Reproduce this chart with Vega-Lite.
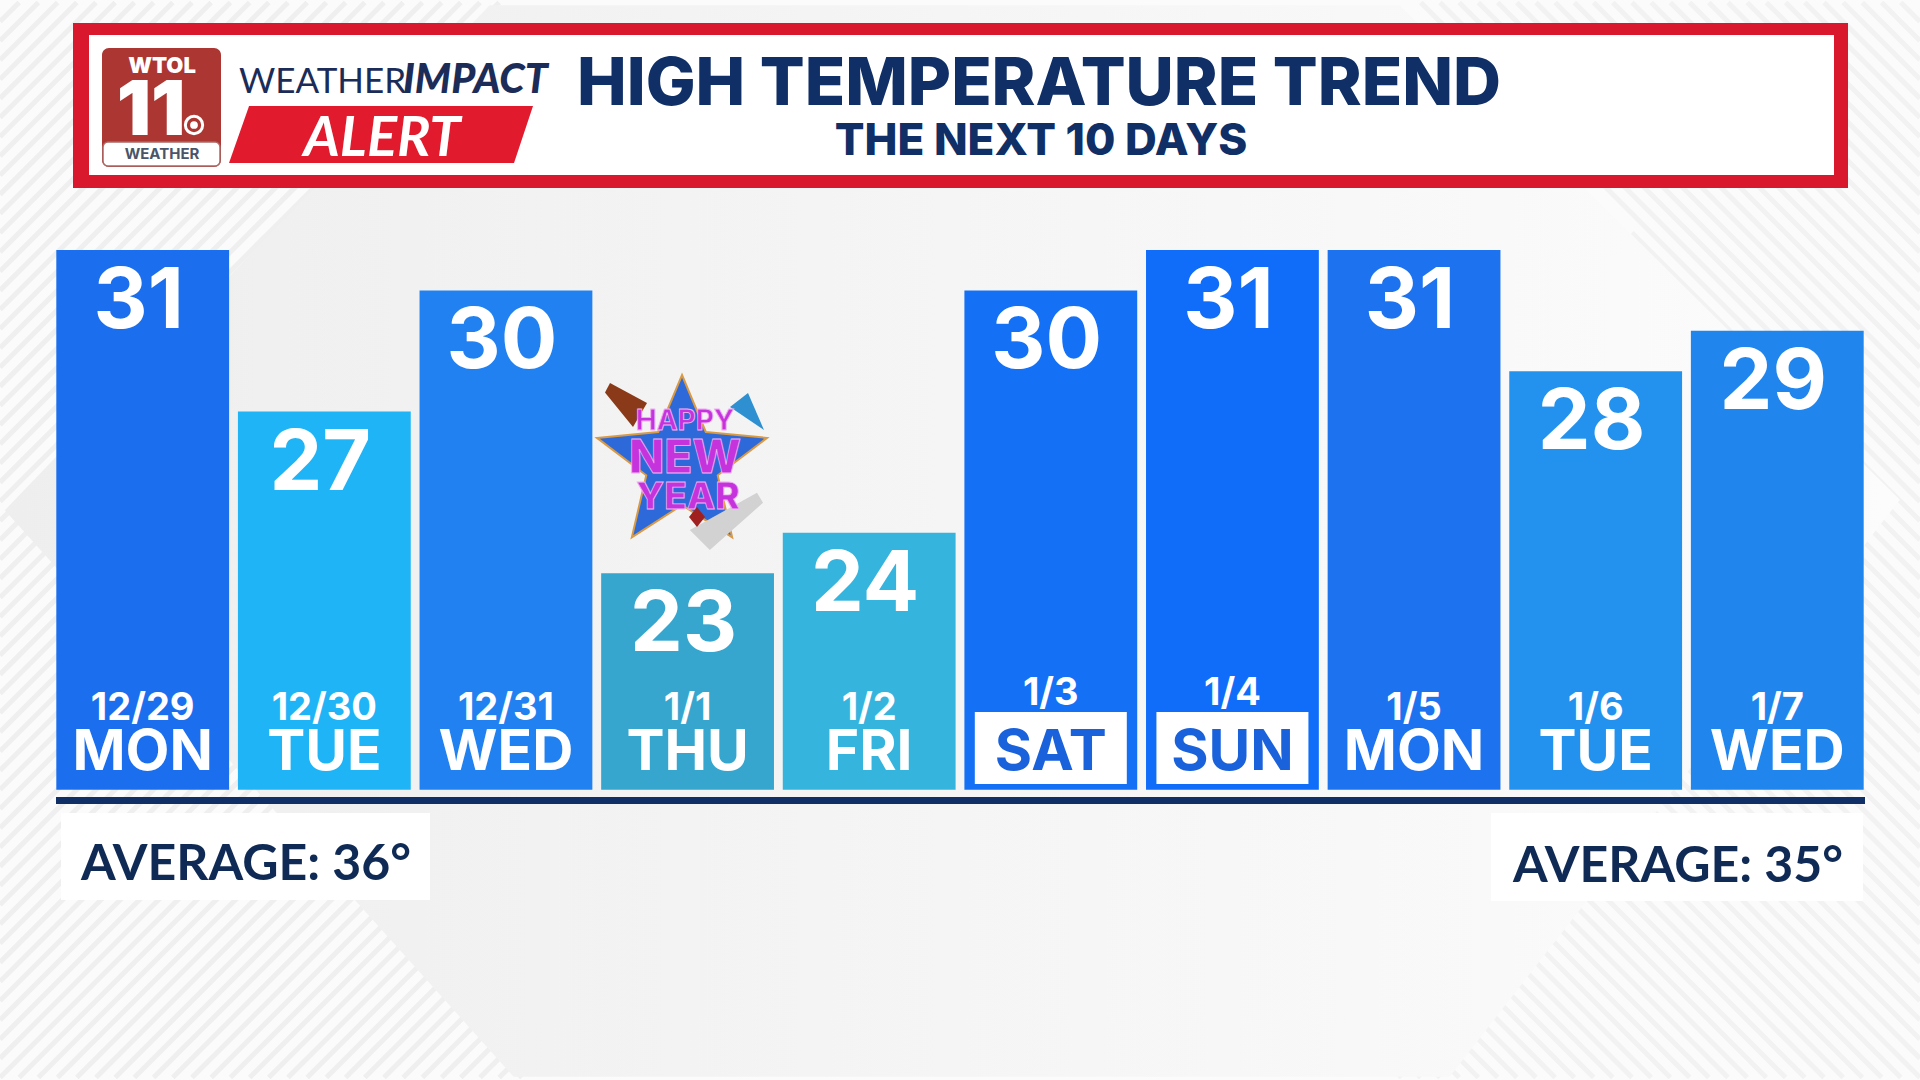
{
"$schema":"https://vega.github.io/schema/vega-lite/v6.json",
"width":1920,"height":1080,"autosize":{"type":"fit","contains":"padding"},"padding":0,
"background":"#fbfbfb",
"config":{"view":{"stroke":null},"axis":{"disable":true}},
"resolve":{"scale":{"x":"independent","y":"independent"}},
"layer":[
{"data":{"values":[{}]},
"layer":[
{"mark":{"type":"point","clip":true,"filled":false,"opacity":1,"stroke":"#efefef","strokeWidth":5,"size":3686400,
"shape":"M-1,-.54l.02,-.02M-1,-.52l.04,-.04M-1,-.5l.06,-.06M-1,-.48l.08,-.08M-1,-.46l.1,-.1M-1,-.44l.12,-.12M-1,-.42l.14,-.14M-1,-.4l.16,-.16M-1,-.38l.18,-.18M-1,-.36l.2,-.2M-1,-.34l.22,-.22M-1,-.32l.24,-.24M-1,-.3l.26,-.26M-1,-.28l.28,-.28M-1,-.26l.3,-.3M-1,-.24l.32,-.32M-1,-.22l.34,-.34M-1,-.2l.36,-.36M-1,-.18l.38,-.38M-1,-.16l.4,-.4M-1,-.14l.42,-.42M-1,-.12l.44,-.44M-1,-.1l.46,-.46M-1,-.08l.48,-.48M-1,-.06l.5,-.5M-1,-.04l.52,-.52M-1,-.02l.3,-.3M-1,0l.3,-.3M-1,.02l.3,-.3M-1,.04l.3,-.3M-1,.06l.3,-.3M-1,.08l.3,-.3M-1,.1l.3,-.3M-1,.12l.3,-.3M-1,.14l.3,-.3M-1,.16l.3,-.3M-1,.18l.3,-.3M-1,.2l.3,-.3M-1,.22l.3,-.3M-1,.24l.3,-.3M-1,.26l.3,-.3M-1,.28l.3,-.3M-1,.3l.3,-.3M-1,.32l.3,-.3M-1,.34l.3,-.3M-1,.36l.3,-.3M-1,.38l.3,-.3M-1,.4l.3,-.3M-1,.42l.3,-.3M-1,.44l.3,-.3M-1,.46l.3,-.3M-1,.48l.3,-.3M-1,.5l.3,-.3M-1,.52l.3,-.3M-1,.54l.3,-.3M-1,.56l.3,-.3M-.98,.56l.4,-.4M-.96,.56l.4,-.4M-.94,.56l.4,-.4M-.92,.56l.4,-.4M-.9,.56l.4,-.4M-.88,.56l.4,-.4M-.86,.56l.4,-.4M-.84,.56l.4,-.4M-.82,.56l.4,-.4M-.8,.56l.4,-.4M-.78,.56l.4,-.4M-.76,.56l.4,-.4M-.74,.56l.4,-.4M-.72,.56l.4,-.4M-.7,.56l.4,-.4M-.68,.56l.4,-.4M-.66,.56l.4,-.4M-.64,.56l.4,-.4M-.62,.56l.4,-.4M-.6,.56l.4,-.4M-.58,.56l.4,-.4M-.56,.56l.4,-.4M-.54,.56l.4,-.4M-.52,.56l.4,-.4M-.5,.56l.4,-.4M-.48,.56l.4,-.4M-.46,.56l.4,-.4"},
"encoding":{"x":{"datum":960,"type":"quantitative","scale":{"domain":[0,1920],"nice":false}},"y":{"datum":540,"type":"quantitative","scale":{"domain":[1080,0],"nice":false}}}},
{"mark":{"type":"point","clip":true,"filled":false,"opacity":1,"stroke":"#f2f2f2","strokeWidth":5,"size":3686400,
"shape":"M1,-.54l-.02,-.02M1,-.52l-.04,-.04M1,-.5l-.06,-.06M1,-.48l-.08,-.08M1,-.46l-.1,-.1M1,-.44l-.12,-.12M1,-.42l-.14,-.14M1,-.4l-.16,-.16M1,-.38l-.18,-.18M1,-.36l-.2,-.2M1,-.34l-.22,-.22M1,-.32l-.24,-.24M1,-.3l-.26,-.26M1,-.28l-.28,-.28M1,-.26l-.3,-.3M1,-.24l-.32,-.32M1,-.22l-.34,-.34M1,-.2l-.36,-.36M1,-.18l-.38,-.38M1,-.16l-.4,-.4M1,-.14l-.42,-.42M1,-.12l-.44,-.44M1,-.1l-.46,-.46M1,-.08l-.48,-.48M1,-.06l-.5,-.5M1,-.04l-.52,-.52M1,-.02l-.3,-.3M1,0l-.3,-.3M1,.02l-.3,-.3M1,.04l-.3,-.3M1,.06l-.3,-.3M1,.08l-.3,-.3M1,.1l-.3,-.3M1,.12l-.3,-.3M1,.14l-.3,-.3M1,.16l-.3,-.3M1,.18l-.3,-.3M1,.2l-.3,-.3M1,.22l-.3,-.3M1,.24l-.3,-.3M1,.26l-.3,-.3M1,.28l-.3,-.3M1,.3l-.3,-.3M1,.32l-.3,-.3M1,.34l-.3,-.3M1,.36l-.3,-.3M1,.38l-.3,-.3M1,.4l-.3,-.3M1,.42l-.3,-.3M1,.44l-.3,-.3M1,.46l-.3,-.3M1,.48l-.3,-.3M1,.5l-.3,-.3M1,.52l-.3,-.3M1,.54l-.3,-.3M1,.56l-.3,-.3M.98,.56l-.4,-.4M.96,.56l-.4,-.4M.94,.56l-.4,-.4M.92,.56l-.4,-.4M.9,.56l-.4,-.4M.88,.56l-.4,-.4M.86,.56l-.4,-.4M.84,.56l-.4,-.4M.82,.56l-.4,-.4M.8,.56l-.4,-.4M.78,.56l-.4,-.4M.76,.56l-.4,-.4M.74,.56l-.4,-.4M.72,.56l-.4,-.4M.7,.56l-.4,-.4M.68,.56l-.4,-.4M.66,.56l-.4,-.4M.64,.56l-.4,-.4M.62,.56l-.4,-.4M.6,.56l-.4,-.4M.58,.56l-.4,-.4M.56,.56l-.4,-.4M.54,.56l-.4,-.4M.52,.56l-.4,-.4M.5,.56l-.4,-.4M.48,.56l-.4,-.4M.46,.56l-.4,-.4"},
"encoding":{"x":{"datum":960,"type":"quantitative","scale":{"domain":[0,1920],"nice":false}},"y":{"datum":540,"type":"quantitative","scale":{"domain":[1080,0],"nice":false}}}},
{"mark":{"type":"point","filled":true,"opacity":1,"strokeWidth":0,"size":3686400,"shape":"M-.49,-.557L.458,-.557L.979,-.042L.51,.559L-.465,.559L-.995,-.031Z",
"fill":{"gradient":"linear","x1":0,"y1":0,"x2":1,"y2":0,"stops":[{"offset":0,"color":"#eeeeee"},{"offset":0.5,"color":"#f5f5f5"},{"offset":1,"color":"#fcfcfc"}]}},
"encoding":{"x":{"datum":960,"type":"quantitative","scale":{"domain":[0,1920],"nice":false}},"y":{"datum":540,"type":"quantitative","scale":{"domain":[1080,0],"nice":false}}}},
{"mark":{"type":"rect","fill":"#d9182e"},
"encoding":{"x":{"datum":73,"type":"quantitative","scale":{"domain":[0,1920],"nice":false}},"x2":{"datum":1848},"y":{"datum":23,"type":"quantitative","scale":{"domain":[1080,0],"nice":false}},"y2":{"datum":188}}},
{"mark":{"type":"rect","fill":"#ffffff"},
"encoding":{"x":{"datum":89,"type":"quantitative","scale":{"domain":[0,1920],"nice":false}},"x2":{"datum":1834},"y":{"datum":35,"type":"quantitative","scale":{"domain":[1080,0],"nice":false}},"y2":{"datum":175}}},
{"mark":{"type":"rect","fill":"#ab3632","cornerRadius":7},
"encoding":{"x":{"datum":102,"type":"quantitative","scale":{"domain":[0,1920],"nice":false}},"x2":{"datum":221},"y":{"datum":48,"type":"quantitative","scale":{"domain":[1080,0],"nice":false}},"y2":{"datum":167}}},
{"mark":{"type":"rect","fill":"#ffffff","cornerRadius":5,"stroke":"#ab6a66","strokeWidth":1.5},
"encoding":{"x":{"datum":103,"type":"quantitative","scale":{"domain":[0,1920],"nice":false}},"x2":{"datum":220},"y":{"datum":142,"type":"quantitative","scale":{"domain":[1080,0],"nice":false}},"y2":{"datum":166}}},
{"mark":{"type":"text","text":"WTOL","font":"Inter","fontWeight":900,"fontSize":22,"fill":"#ffffff","align":"center","baseline":"alphabetic"},
"encoding":{"x":{"datum":162,"type":"quantitative","scale":{"domain":[0,1920],"nice":false}},"y":{"datum":73,"type":"quantitative","scale":{"domain":[1080,0],"nice":false}}}},
{"mark":{"type":"text","text":"11","font":"Inter","fontWeight":900,"fontSize":76,"fill":"#ffffff","align":"center","baseline":"alphabetic"},
"encoding":{"x":{"datum":151,"type":"quantitative","scale":{"domain":[0,1920],"nice":false}},"y":{"datum":135,"type":"quantitative","scale":{"domain":[1080,0],"nice":false}}}},
{"mark":{"type":"text","text":"WEATHER","font":"Inter","fontWeight":700,"fontSize":15,"fill":"#4a5568","align":"center","baseline":"alphabetic"},
"encoding":{"x":{"datum":162,"type":"quantitative","scale":{"domain":[0,1920],"nice":false}},"y":{"datum":159,"type":"quantitative","scale":{"domain":[1080,0],"nice":false}}}},
{"mark":{"type":"point","shape":"circle","filled":false,"opacity":1,"stroke":"#ffffff","strokeWidth":3,"size":300},
"encoding":{"x":{"datum":194,"type":"quantitative","scale":{"domain":[0,1920],"nice":false}},"y":{"datum":125,"type":"quantitative","scale":{"domain":[1080,0],"nice":false}}}},
{"mark":{"type":"point","shape":"circle","filled":true,"opacity":1,"fill":"#ffffff","size":60},
"encoding":{"x":{"datum":194,"type":"quantitative","scale":{"domain":[0,1920],"nice":false}},"y":{"datum":125,"type":"quantitative","scale":{"domain":[1080,0],"nice":false}}}},
{"mark":{"type":"text","text":"WEATHER","font":"Lato","fontSize":35,"fill":"#1c2c58","align":"left","baseline":"alphabetic"},
"encoding":{"x":{"datum":239,"type":"quantitative","scale":{"domain":[0,1920],"nice":false}},"y":{"datum":93,"type":"quantitative","scale":{"domain":[1080,0],"nice":false}}}},
{"mark":{"type":"text","text":"IMPACT","font":"Lato","fontWeight":900,"fontStyle":"italic","fontSize":41,"fill":"#1c2c58","align":"left","baseline":"alphabetic"},
"encoding":{"x":{"datum":403,"type":"quantitative","scale":{"domain":[0,1920],"nice":false}},"y":{"datum":93,"type":"quantitative","scale":{"domain":[1080,0],"nice":false}}}},
{"mark":{"type":"point","filled":true,"opacity":1,"fill":"#e11b2d","strokeWidth":0,"size":92416,"shape":"M-.868,-.1875L1,-.1875L.875,.1875L-1,.1875Z"},
"encoding":{"x":{"datum":381,"type":"quantitative","scale":{"domain":[0,1920],"nice":false}},"y":{"datum":134.5,"type":"quantitative","scale":{"domain":[1080,0],"nice":false}}}},
{"mark":{"type":"text","text":"ALERT","font":"Lato","fontWeight":"bold","fontStyle":"italic","fontSize":56,"fill":"#ffffff","align":"center","baseline":"alphabetic"},
"encoding":{"x":{"datum":382,"type":"quantitative","scale":{"domain":[0,1920],"nice":false}},"y":{"datum":156,"type":"quantitative","scale":{"domain":[1080,0],"nice":false}}}},
{"mark":{"type":"text","text":"HIGH TEMPERATURE TREND","font":"Inter","fontWeight":800,"fontSize":66.4,"fill":"#0f2f66","align":"center","baseline":"alphabetic"},
"encoding":{"x":{"datum":1039,"type":"quantitative","scale":{"domain":[0,1920],"nice":false}},"y":{"datum":105,"type":"quantitative","scale":{"domain":[1080,0],"nice":false}}}},
{"mark":{"type":"text","text":"THE NEXT 10 DAYS","font":"Inter","fontWeight":800,"fontSize":44,"fill":"#0f2f66","align":"center","baseline":"alphabetic"},
"encoding":{"x":{"datum":1041,"type":"quantitative","scale":{"domain":[0,1920],"nice":false}},"y":{"datum":155,"type":"quantitative","scale":{"domain":[1080,0],"nice":false}}}},
{"mark":{"type":"rect","fill":"#0f2f66"},
"encoding":{"x":{"datum":56,"type":"quantitative","scale":{"domain":[0,1920],"nice":false}},"x2":{"datum":1865},"y":{"datum":797,"type":"quantitative","scale":{"domain":[1080,0],"nice":false}},"y2":{"datum":804}}},
{"mark":{"type":"rect","fill":"#ffffff"},
"encoding":{"x":{"datum":61,"type":"quantitative","scale":{"domain":[0,1920],"nice":false}},"x2":{"datum":430},"y":{"datum":813,"type":"quantitative","scale":{"domain":[1080,0],"nice":false}},"y2":{"datum":900}}},
{"mark":{"type":"rect","fill":"#ffffff"},
"encoding":{"x":{"datum":1491,"type":"quantitative","scale":{"domain":[0,1920],"nice":false}},"x2":{"datum":1863},"y":{"datum":813,"type":"quantitative","scale":{"domain":[1080,0],"nice":false}},"y2":{"datum":901}}},
{"mark":{"type":"text","text":"AVERAGE: 36°","font":"Lato","fontWeight":"bold","fontSize":50,"fill":"#0f2a55","align":"center","baseline":"alphabetic"},
"encoding":{"x":{"datum":246,"type":"quantitative","scale":{"domain":[0,1920],"nice":false}},"y":{"datum":880,"type":"quantitative","scale":{"domain":[1080,0],"nice":false}}}},
{"mark":{"type":"text","text":"AVERAGE: 35°","font":"Lato","fontWeight":"bold","fontSize":50,"fill":"#0f2a55","align":"center","baseline":"alphabetic"},
"encoding":{"x":{"datum":1678,"type":"quantitative","scale":{"domain":[0,1920],"nice":false}},"y":{"datum":882,"type":"quantitative","scale":{"domain":[1080,0],"nice":false}}}},
{"mark":{"type":"point","filled":true,"opacity":1,"fill":"#8a3a18","strokeWidth":0,"size":2500,"shape":"M-.8,-.88L.68,-.08L.12,.88L-1,-.5Z"},
"encoding":{"x":{"datum":630,"type":"quantitative","scale":{"domain":[0,1920],"nice":false}},"y":{"datum":405,"type":"quantitative","scale":{"domain":[1080,0],"nice":false}}}},
{"mark":{"type":"point","filled":true,"opacity":1,"fill":"#2e90d0","strokeWidth":0,"size":1600,"shape":"M.05,-.9L.85,.95L-.85,-.2Z"},
"encoding":{"x":{"datum":747,"type":"quantitative","scale":{"domain":[0,1920],"nice":false}},"y":{"datum":411,"type":"quantitative","scale":{"domain":[1080,0],"nice":false}}}},
{"mark":{"type":"point","filled":true,"opacity":1,"fill":"#2d69d8","stroke":"#d99a45","strokeWidth":2,"size":28900,"shape":"M0,-1L.28,-.33L1,-.26L.42,.18L.59,.91L0,.53L-.59,.91L-.42,.18L-1,-.26L-.28,-.33Z"},
"encoding":{"x":{"datum":682,"type":"quantitative","scale":{"domain":[0,1920],"nice":false}},"y":{"datum":460,"type":"quantitative","scale":{"domain":[1080,0],"nice":false}}}},
{"mark":{"type":"point","filled":true,"opacity":1,"fill":"#d2d2d2","strokeWidth":0,"size":6400,"shape":"M.75,-.68L.9,-.43L-.43,.75L-.93,.25Z"},
"encoding":{"x":{"datum":727,"type":"quantitative","scale":{"domain":[0,1920],"nice":false}},"y":{"datum":520,"type":"quantitative","scale":{"domain":[1080,0],"nice":false}}}},
{"mark":{"type":"point","filled":true,"opacity":1,"fill":"#a02020","strokeWidth":0,"size":400,"shape":"M0,-1L.8,0L0,1L-.8,0Z"},
"encoding":{"x":{"datum":697,"type":"quantitative","scale":{"domain":[0,1920],"nice":false}},"y":{"datum":517,"type":"quantitative","scale":{"domain":[1080,0],"nice":false}}}},
{"mark":{"type":"text","text":"HAPPY","font":"Inter","fontWeight":700,"fontSize":28,"fill":"#c433dc","stroke":"#f0b4f5","strokeWidth":0.8,"align":"center","baseline":"alphabetic"},
"encoding":{"x":{"datum":685,"type":"quantitative","scale":{"domain":[0,1920],"nice":false}},"y":{"datum":430,"type":"quantitative","scale":{"domain":[1080,0],"nice":false}}}},
{"mark":{"type":"text","text":"NEW","font":"Inter","fontWeight":800,"fontSize":46,"fill":"#c433dc","stroke":"#f0b4f5","strokeWidth":0.8,"align":"center","baseline":"alphabetic"},
"encoding":{"x":{"datum":685,"type":"quantitative","scale":{"domain":[0,1920],"nice":false}},"y":{"datum":473,"type":"quantitative","scale":{"domain":[1080,0],"nice":false}}}},
{"mark":{"type":"text","text":"YEAR","font":"Inter","fontWeight":800,"fontSize":37,"fill":"#c433dc","stroke":"#f0b4f5","strokeWidth":0.8,"align":"center","baseline":"alphabetic"},
"encoding":{"x":{"datum":688,"type":"quantitative","scale":{"domain":[0,1920],"nice":false}},"y":{"datum":509,"type":"quantitative","scale":{"domain":[1080,0],"nice":false}}}}
]},
{"data":{"values":[
{"date":"12/29","day":"MON","temp":31,"weekend":false},
{"date":"12/30","day":"TUE","temp":27,"weekend":false},
{"date":"12/31","day":"WED","temp":30,"weekend":false},
{"date":"1/1","day":"THU","temp":23,"weekend":false},
{"date":"1/2","day":"FRI","temp":24,"weekend":false},
{"date":"1/3","day":"SAT","temp":30,"weekend":true},
{"date":"1/4","day":"SUN","temp":31,"weekend":true},
{"date":"1/5","day":"MON","temp":31,"weekend":false},
{"date":"1/6","day":"TUE","temp":28,"weekend":false},
{"date":"1/7","day":"WED","temp":29,"weekend":false}
]},
"encoding":{"x":{"field":"date","type":"nominal","sort":null,"scale":{"paddingInner":0.0485,"paddingOuter":0.31}}},
"layer":[
{"mark":{"type":"bar"},
"encoding":{
"y":{"field":"temp","type":"quantitative","scale":{"domain":[10.455,37.188],"nice":false,"zero":false}},
"y2":{"datum":17.64},
"color":{"field":"date","type":"nominal","legend":null,"sort":null,"scale":{"domain":["12/29","12/30","12/31","1/1","1/2","1/3","1/4","1/5","1/6","1/7"],"range":["#1b6fee","#1fb4f6","#2181f0","#36a6cf","#35b4de","#1470f5","#0f6dfa","#1d72f0","#2292ee","#2086ee"]}}}},
{"transform":[{"filter":"datum.weekend"}],
"mark":{"type":"bar","size":152,"fill":"#ffffff"},
"encoding":{"y":{"datum":19.564,"type":"quantitative"},"y2":{"datum":17.782}}},
{"mark":{"type":"text","font":"Inter","fontWeight":700,"fontSize":84,"fill":"#ffffff","align":"center","baseline":"alphabetic","dy":78,"dx":-4},
"encoding":{"y":{"field":"temp","type":"quantitative"},"text":{"field":"temp","type":"quantitative"}}},
{"transform":[{"filter":"!datum.weekend"}],
"mark":{"type":"text","font":"Inter","fontWeight":700,"fontSize":38,"fill":"#ffffff","align":"center","baseline":"alphabetic"},
"encoding":{"y":{"datum":19.366,"type":"quantitative"},"text":{"field":"date","type":"nominal"}}},
{"transform":[{"filter":"datum.weekend"}],
"mark":{"type":"text","font":"Inter","fontWeight":700,"fontSize":38,"fill":"#ffffff","align":"center","baseline":"alphabetic"},
"encoding":{"y":{"datum":19.738,"type":"quantitative"},"text":{"field":"date","type":"nominal"}}},
{"transform":[{"filter":"!datum.weekend"}],
"mark":{"type":"text","font":"Inter","fontWeight":700,"fontSize":57,"fill":"#ffffff","align":"center","baseline":"alphabetic"},
"encoding":{"y":{"datum":18.129,"type":"quantitative"},"text":{"field":"day","type":"nominal"}}},
{"transform":[{"filter":"datum.weekend"}],
"mark":{"type":"text","font":"Inter","fontWeight":700,"fontSize":57,"fill":"#1a62dc","align":"center","baseline":"alphabetic"},
"encoding":{"y":{"datum":18.129,"type":"quantitative"},"text":{"field":"day","type":"nominal"}}}
]}
]
}
